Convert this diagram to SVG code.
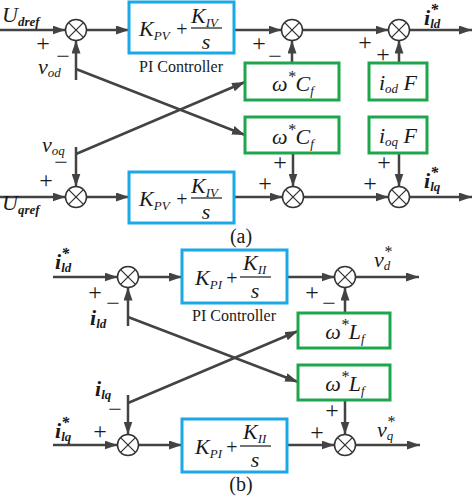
<svg xmlns="http://www.w3.org/2000/svg" width="474" height="500" viewBox="0 0 474 500" font-family="'Liberation Serif', 'DejaVu Serif', serif">
<style>
.w{stroke:#434343;stroke-width:2.5;fill:none}
.sum circle{fill:#fff;stroke:#333;stroke-width:1.5}
.sum path{stroke:#333;stroke-width:1.3}
.pi{fill:#fff;stroke:#1ba8e6;stroke-width:3}
.gr{fill:#fff;stroke:#1ea64c;stroke-width:3}
text{font-family:'Liberation Serif','DejaVu Serif',serif;fill:#1a1a1a}
.it{font-style:italic;font-size:22px}
.sb{font-size:13px;font-style:italic}
.bi{font-weight:bold}
.sg{font-size:24px;text-anchor:middle}
.bp{font-size:20px;text-anchor:middle}
.lab{font-size:16px;text-anchor:middle}
.cap{font-size:20px;text-anchor:middle}
</style>
<defs>
<marker id="ar" markerUnits="userSpaceOnUse" markerWidth="13" markerHeight="9" refX="13" refY="4.5" orient="auto">
<path d="M0,0 L13,4.5 L0,9 z" fill="#434343"/>
</marker>
<g id="sumg" class="sum"><circle r="10.5"/><path d="M-7.4,-7.4 L7.4,7.4 M-7.4,7.4 L7.4,-7.4"/></g>
</defs>

<g id="connectors">
<path class="w" marker-end="url(#ar)" d="M0,30 L65.5,30"/>
<path class="w" marker-end="url(#ar)" d="M86.5,30 L129,30"/>
<path class="w" marker-end="url(#ar)" d="M234,30 L281.5,30"/>
<path class="w" marker-end="url(#ar)" d="M302.5,30 L388.5,30"/>
<path class="w" marker-end="url(#ar)" d="M409.5,30 L472,30"/>
<path class="w" marker-end="url(#ar)" d="M76,80 L76,40.5"/>
<path class="w" marker-end="url(#ar)" d="M76,69 L245,135"/>
<path class="w" marker-end="url(#ar)" d="M292,63 L292,40.5"/>
<path class="w" marker-end="url(#ar)" d="M399,63 L399,40.5"/>
<path class="w" marker-end="url(#ar)" d="M76,147 L76,186.5"/>
<path class="w" marker-end="url(#ar)" d="M76,154 L245,82"/>
<path class="w" marker-end="url(#ar)" d="M0,197 L65.5,197"/>
<path class="w" marker-end="url(#ar)" d="M86.5,197 L129,197"/>
<path class="w" marker-end="url(#ar)" d="M234,197 L282.5,197"/>
<path class="w" marker-end="url(#ar)" d="M303.5,197 L388.5,197"/>
<path class="w" marker-end="url(#ar)" d="M409.5,197 L472,197"/>
<path class="w" marker-end="url(#ar)" d="M293,153 L293,186.5"/>
<path class="w" marker-end="url(#ar)" d="M399,153 L399,186.5"/>

<path class="w" marker-end="url(#ar)" d="M53,277 L117.5,277"/>
<path class="w" marker-end="url(#ar)" d="M138.5,277 L182,277"/>
<path class="w" marker-end="url(#ar)" d="M287,277 L334.5,277"/>
<path class="w" marker-end="url(#ar)" d="M355.5,277 L419,277"/>
<path class="w" marker-end="url(#ar)" d="M128,326 L128,287.5"/>
<path class="w" marker-end="url(#ar)" d="M128,317 L298,382"/>
<path class="w" marker-end="url(#ar)" d="M345,313 L345,287.5"/>
<path class="w" marker-end="url(#ar)" d="M128,395 L128,434.5"/>
<path class="w" marker-end="url(#ar)" d="M128,403 L298,331"/>
<path class="w" marker-end="url(#ar)" d="M53,445 L117.5,445"/>
<path class="w" marker-end="url(#ar)" d="M138.5,445 L182,445"/>
<path class="w" marker-end="url(#ar)" d="M287,445 L334.5,445"/>
<path class="w" marker-end="url(#ar)" d="M355.5,445 L420,445"/>
<path class="w" marker-end="url(#ar)" d="M345,400 L345,434.5"/>
</g>

<!-- (a) -->
<g id="sum1"><use href="#sumg" x="76" y="30"/></g>
<g id="sum2"><use href="#sumg" x="292" y="30"/></g>
<g id="sum3"><use href="#sumg" x="399" y="30"/></g>
<g id="sum4"><use href="#sumg" x="76" y="197"/></g>
<g id="sum5"><use href="#sumg" x="293" y="197"/></g>
<g id="sum6"><use href="#sumg" x="399" y="197"/></g>

<g id="piA1">
<rect class="pi" x="129" y="2" width="105" height="51"/>
<text class="it" x="139" y="36">K<tspan class="sb" dy="4">PV</tspan></text>
<text class="bp" x="182" y="36">+</text>
<text class="it" x="191" y="23">K<tspan class="sb" dy="4">IV</tspan></text>
<path d="M191,28 H222" stroke="#1a1a1a" stroke-width="1.2"/>
<text class="it" x="206" y="49" text-anchor="middle">s</text>
</g>
<g id="piA2">
<rect class="pi" x="129" y="172" width="105" height="51"/>
<text class="it" x="139" y="206">K<tspan class="sb" dy="4">PV</tspan></text>
<text class="bp" x="182" y="206">+</text>
<text class="it" x="191" y="193">K<tspan class="sb" dy="4">IV</tspan></text>
<path d="M191,198 H222" stroke="#1a1a1a" stroke-width="1.2"/>
<text class="it" x="206" y="219" text-anchor="middle">s</text>
</g>
<g id="wcA1">
<rect class="gr" x="245" y="63" width="94" height="37"/>
<text class="it" x="293" y="91" text-anchor="middle" font-size="25">ω<tspan font-size="16" dy="-9">*</tspan><tspan dy="9">C</tspan><tspan class="sb" font-size="14" dy="4">f</tspan></text>
</g>
<g id="wcA2">
<rect class="gr" x="245" y="117" width="94" height="36"/>
<text class="it" x="293" y="144" text-anchor="middle" font-size="25">ω<tspan font-size="16" dy="-9">*</tspan><tspan dy="9">C</tspan><tspan class="sb" font-size="14" dy="4">f</tspan></text>
</g>
<g id="ifA1">
<rect class="gr" x="369" y="63" width="58" height="37"/>
<text class="it" x="398" y="90" text-anchor="middle" font-size="24">i<tspan class="sb" font-size="14" dy="3">od</tspan><tspan dy="-3"> F</tspan></text>
</g>
<g id="ifA2">
<rect class="gr" x="369" y="117" width="58" height="36"/>
<text class="it" x="398" y="143" text-anchor="middle" font-size="24">i<tspan class="sb" font-size="14" dy="3">oq</tspan><tspan dy="-3"> F</tspan></text>
</g>

<g id="labelsA">
<text class="it" x="2" y="22" font-size="24">U<tspan class="sb bi" font-size="14" dy="4">dref</tspan></text>
<text class="sg" x="43" y="51">+</text>
<text class="sg" x="63" y="64">−</text>
<text class="it" x="38" y="74" font-size="24">v<tspan class="sb" font-size="14" dy="3">od</tspan></text>
<text class="lab" x="181" y="72">PI Controller</text>
<text class="sg" x="259" y="51">+</text>
<text class="sg" x="275" y="64">−</text>
<text class="sg" x="365" y="50">+</text>
<text class="sg" x="383" y="62">+</text>
<text class="it bi" x="424" y="25">i<tspan font-size="16" dy="-10">*</tspan><tspan class="sb" font-size="14" dx="-8" dy="13">ld</tspan></text>
<text class="it" x="42" y="152" font-size="24">v<tspan class="sb" font-size="14" dy="3">oq</tspan></text>
<text class="sg" x="61" y="170">−</text>
<text class="sg" x="46" y="188">+</text>
<text class="it" x="2" y="210" font-size="24">U<tspan class="sb bi" font-size="14" dy="4">qref</tspan></text>
<text class="sg" x="280" y="170">+</text>
<text class="sg" x="265" y="191">+</text>
<text class="sg" x="384" y="170">+</text>
<text class="sg" x="370" y="191">+</text>
<text class="it bi" x="424" y="188">i<tspan font-size="16" dy="-10">*</tspan><tspan class="sb" font-size="14" dx="-8" dy="13">lq</tspan></text>
<text class="cap" x="241" y="243">(a)</text>
</g>

<!-- (b) -->
<g id="sum7"><use href="#sumg" x="128" y="277"/></g>
<g id="sum8"><use href="#sumg" x="345" y="277"/></g>
<g id="sum9"><use href="#sumg" x="128" y="445"/></g>
<g id="sum10"><use href="#sumg" x="345" y="445"/></g>

<g id="piB1">
<rect class="pi" x="182" y="250" width="105" height="53"/>
<text class="it" x="195" y="285">K<tspan class="sb" dy="4">PI</tspan></text>
<text class="bp" x="232" y="285">+</text>
<text class="it" x="243" y="270">K<tspan class="sb" dy="4">II</tspan></text>
<path d="M240,277 H271" stroke="#1a1a1a" stroke-width="1.2"/>
<text class="it" x="255" y="298" text-anchor="middle">s</text>
</g>
<g id="piB2">
<rect class="pi" x="182" y="419" width="105" height="53"/>
<text class="it" x="195" y="454">K<tspan class="sb" dy="4">PI</tspan></text>
<text class="bp" x="232" y="454">+</text>
<text class="it" x="243" y="439">K<tspan class="sb" dy="4">II</tspan></text>
<path d="M240,446 H271" stroke="#1a1a1a" stroke-width="1.2"/>
<text class="it" x="255" y="467" text-anchor="middle">s</text>
</g>
<g id="wlB1">
<rect class="gr" x="298" y="313" width="92" height="35"/>
<text class="it" x="345" y="339" text-anchor="middle" font-size="25">ω<tspan font-size="16" dy="-9">*</tspan><tspan dy="9">L</tspan><tspan class="sb" font-size="14" dy="4">f</tspan></text>
</g>
<g id="wlB2">
<rect class="gr" x="298" y="365" width="92" height="35"/>
<text class="it" x="345" y="391" text-anchor="middle" font-size="25">ω<tspan font-size="16" dy="-9">*</tspan><tspan dy="9">L</tspan><tspan class="sb" font-size="14" dy="4">f</tspan></text>
</g>

<g id="labelsB">
<text class="it bi" x="55" y="269">i<tspan font-size="16" dy="-10">*</tspan><tspan class="sb" font-size="14" dx="-8" dy="13">ld</tspan></text>
<text class="sg" x="95" y="300">+</text>
<text class="sg" x="113" y="311">−</text>
<text class="it bi" x="90" y="325">i<tspan class="sb" font-size="14" dy="3">ld</tspan></text>
<text class="lab" x="234" y="321">PI Controller</text>
<text class="sg" x="312" y="300">+</text>
<text class="sg" x="329" y="311">−</text>
<text class="it" x="374" y="267" font-size="24">v<tspan font-size="16" dy="-10">*</tspan><tspan class="sb" font-size="14" dx="-8" dy="13">d</tspan></text>
<text class="it bi" x="95" y="396">i<tspan class="sb" font-size="14" dy="3">lq</tspan></text>
<text class="sg" x="115" y="417">−</text>
<text class="sg" x="100" y="439">+</text>
<text class="it bi" x="55" y="438">i<tspan font-size="16" dy="-10">*</tspan><tspan class="sb" font-size="14" dx="-8" dy="13">lq</tspan></text>
<text class="sg" x="332" y="418">+</text>
<text class="sg" x="317" y="440">+</text>
<text class="it" x="377" y="437" font-size="24">v<tspan font-size="16" dy="-10">*</tspan><tspan class="sb" font-size="14" dx="-8" dy="13">q</tspan></text>
<text class="cap" x="241" y="491">(b)</text>
</g>
</svg>
